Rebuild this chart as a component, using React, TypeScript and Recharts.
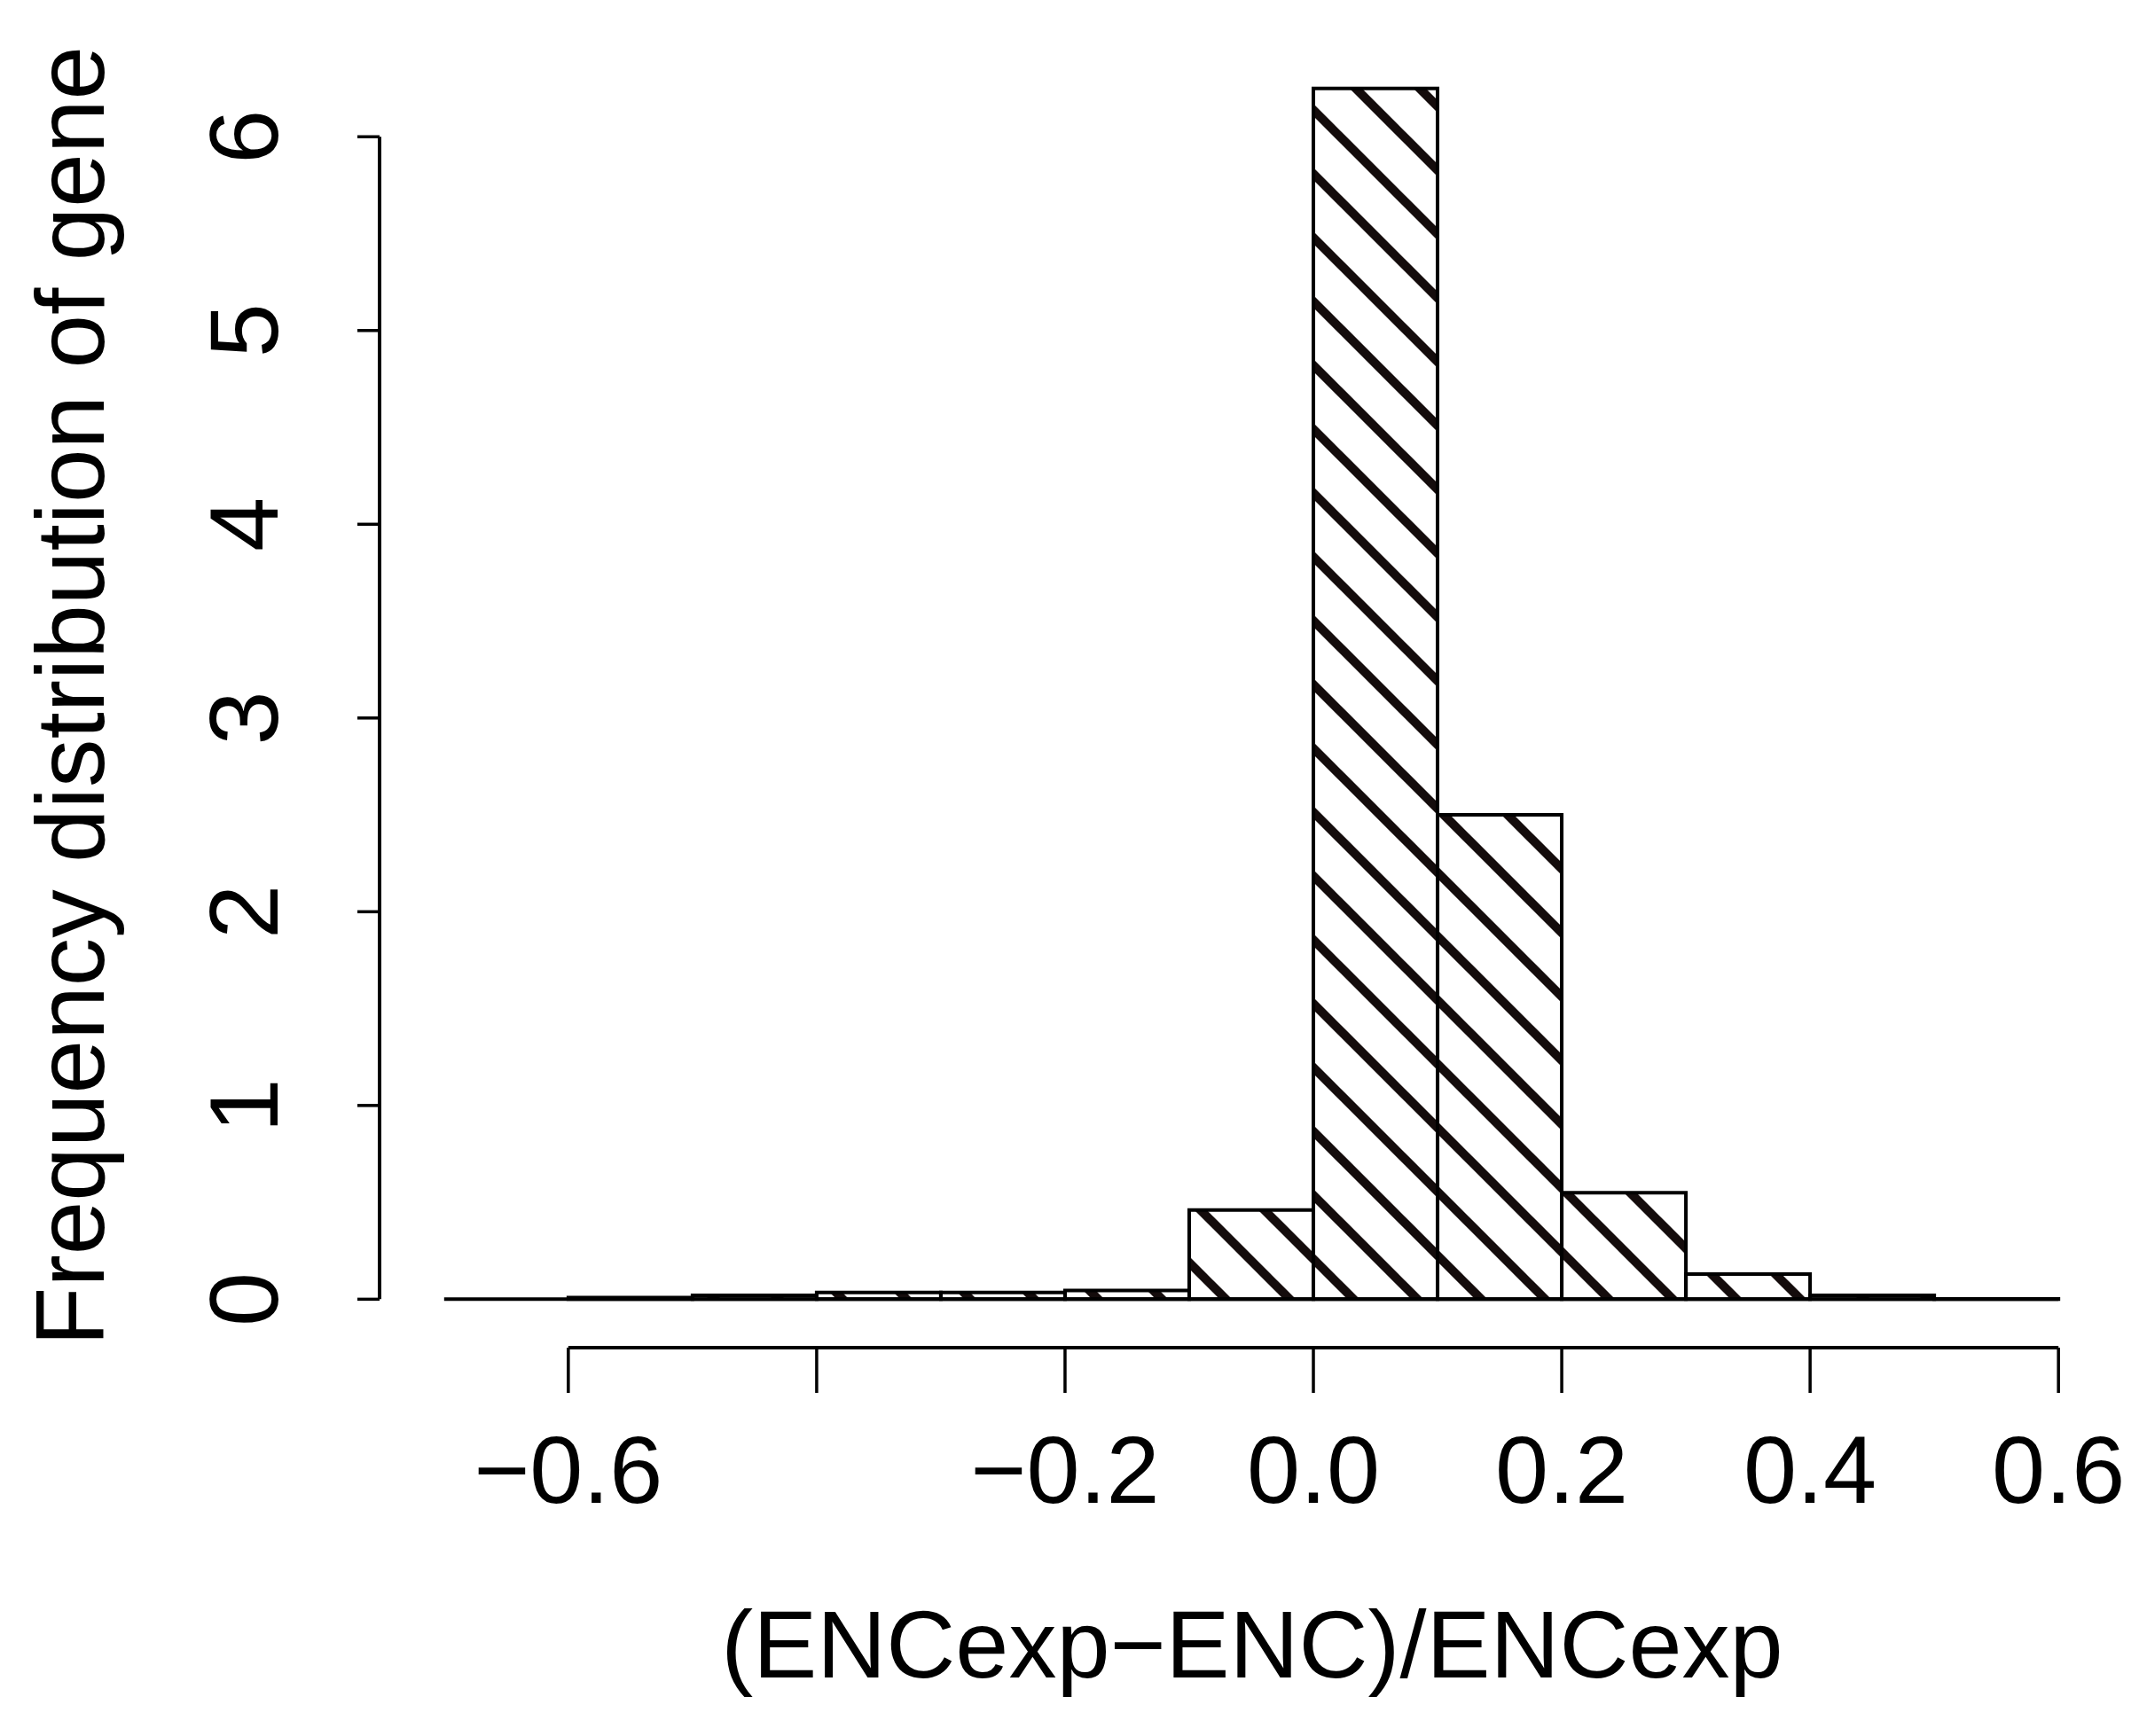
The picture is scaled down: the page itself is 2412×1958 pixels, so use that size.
import {
  ComposedChart,
  Bar,
  XAxis,
  YAxis,
  ReferenceLine,
  Label,
} from "recharts";

// histogram bins (left edges, width 0.1) and densities
const BIN_LEFT = [-0.7, -0.6, -0.5, -0.4, -0.3, -0.2, -0.1, 0.0, 0.1, 0.2, 0.3, 0.4, 0.5];
const DENSITY = [0, 0.008, 0.02, 0.035, 0.035, 0.045, 0.46, 6.25, 2.5, 0.55, 0.13, 0.02, 0.002];
const BIN_WIDTH = 0.1;

const X_TICKS = [-0.6, -0.4, -0.2, 0.0, 0.2, 0.4, 0.6];
const X_TICK_LABELS = ["\u22120.6", "", "\u22120.2", "0.0", "0.2", "0.4", "0.6"];
const Y_TICKS = [0, 1, 2, 3, 4, 5, 6];

const X_TITLE = "(ENCexp\u2212ENC)/ENCexp";
const Y_TITLE = "Frequency distribution of gene";

const FONT = "'Liberation Sans', Arial, Helvetica, sans-serif";

const data = BIN_LEFT.map((left, i) => ({
  mid: +(left + BIN_WIDTH / 2).toFixed(3),
  density: DENSITY[i],
}));

// R-style 4% padding around the data range
const xLo = BIN_LEFT[0];
const xHi = BIN_LEFT[BIN_LEFT.length - 1] + BIN_WIDTH;
const xPad = (xHi - xLo) * 0.04;
const yHi = Math.max(...DENSITY);
const yPad = yHi * 0.04;
const X_DOMAIN: [number, number] = [xLo - xPad, xHi + xPad];
const Y_DOMAIN: [number, number] = [-yPad, yHi + yPad];

function YTick(props: any) {
  const { x, y, payload } = props;
  return (
    <text
      x={x}
      y={y}
      transform={`rotate(-90 ${x} ${y})`}
      textAnchor="middle"
      fontSize={110}
      fontFamily={FONT}
      fill="#000"
    >
      {payload.value}
    </text>
  );
}

export default function App() {
  return (
    <div
      style={{
        position: "absolute",
        left: 0,
        top: 0,
        width: 2412,
        height: 1958,
        background: "#fff",
      }}
    >
      <svg width={0} height={0} style={{ position: "absolute" }}>
        <defs>
          <pattern id="hatch" patternUnits="userSpaceOnUse" width={72} height={72} y={11}>
            <path
              d="M-12,-12 L84,84 M-12,60 L12,84 M60,-12 L84,12"
              stroke="#140c0c"
              strokeWidth={10}
            />
          </pattern>
        </defs>
      </svg>
      <ComposedChart
        width={2412}
        height={1958}
        data={data}
        margin={{ top: 45, right: 18, left: 128, bottom: 138 }}
        barCategoryGap={0}
        barGap={0}
      >
        <XAxis
          dataKey="mid"
          type="number"
          domain={X_DOMAIN}
          ticks={X_TICKS}
          tickFormatter={(v: number) => X_TICK_LABELS[X_TICKS.findIndex((t) => Math.abs(t - v) < 1e-9)] ?? ""}
          interval={0}
          allowDataOverflow
          height={300}
          axisLine={false}
          tickSize={51}
          tickMargin={47}
          tickLine={{ stroke: "#000", strokeWidth: 3.5 }}
          tick={{ fontSize: 108, fill: "#000", fontFamily: FONT }}
        >
          <Label
            content={() => (
              <text x={1412} y={1892} textAnchor="middle" fontSize={108} fontFamily={FONT} fill="#000">
                {X_TITLE}
              </text>
            )}
          />
        </XAxis>
        <YAxis
          type="number"
          domain={Y_DOMAIN}
          ticks={Y_TICKS}
          interval={0}
          allowDataOverflow
          width={300}
          axisLine={false}
          tickSize={25}
          tickMargin={90}
          tickLine={{ stroke: "#000", strokeWidth: 3.5 }}
          tick={<YTick />}
        >
          <Label
            content={() => (
              <text
                x={117}
                y={785}
                transform="rotate(-90 117 785)"
                textAnchor="middle"
                fontSize={109}
                fontFamily={FONT}
                fill="#000"
              >
                {Y_TITLE}
              </text>
            )}
          />
        </YAxis>
        <Bar
          dataKey="density"
          fill="url(#hatch)"
          stroke="#000"
          strokeWidth={4}
          isAnimationActive={false}
        />
        <ReferenceLine
          segment={[
            { x: xLo, y: 0 },
            { x: xHi, y: 0 },
          ]}
          stroke="#000"
          strokeWidth={4}
          ifOverflow="visible"
        />
        <ReferenceLine
          segment={[
            { x: X_TICKS[0], y: Y_DOMAIN[0] },
            { x: X_TICKS[X_TICKS.length - 1], y: Y_DOMAIN[0] },
          ]}
          stroke="#000"
          strokeWidth={4}
          ifOverflow="visible"
        />
        <ReferenceLine
          segment={[
            { x: X_DOMAIN[0], y: Y_TICKS[0] },
            { x: X_DOMAIN[0], y: Y_TICKS[Y_TICKS.length - 1] },
          ]}
          stroke="#000"
          strokeWidth={4}
          ifOverflow="visible"
        />
      </ComposedChart>
    </div>
  );
}
